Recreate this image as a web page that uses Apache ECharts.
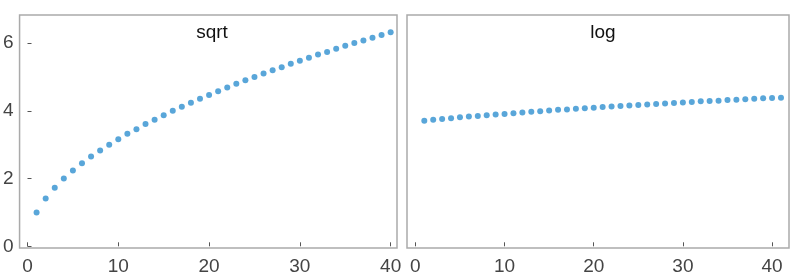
<!DOCTYPE html>
<html>
<head>
<meta charset="utf-8">
<script src="https://cdn.jsdelivr.net/npm/echarts@6/dist/echarts.min.js"></script>
<style>
  html, body { margin: 0; padding: 0; background: #fff; }
  #chart { width: 796px; height: 280px; }
</style>
</head>
<body>
<div id="chart"></div>
<script>
// data
var xSqrt = [1, 2, 3, 4, 5, 6, 7, 8, 9, 10, 11, 12, 13, 14, 15, 16, 17, 18, 19, 20,
  21, 22, 23, 24, 25, 26, 27, 28, 29, 30, 31, 32, 33, 34, 35, 36, 37, 38, 39, 40];
var ySqrt = [1.00, 1.41, 1.73, 2.00, 2.24, 2.45, 2.65, 2.83, 3.00, 3.16,
  3.32, 3.46, 3.61, 3.74, 3.87, 4.00, 4.12, 4.24, 4.36, 4.47,
  4.58, 4.69, 4.80, 4.90, 5.00, 5.10, 5.20, 5.29, 5.39, 5.48,
  5.57, 5.66, 5.74, 5.83, 5.92, 6.00, 6.08, 6.16, 6.24, 6.32];
var xLog = [1, 2, 3, 4, 5, 6, 7, 8, 9, 10, 11, 12, 13, 14, 15, 16, 17, 18, 19, 20,
  21, 22, 23, 24, 25, 26, 27, 28, 29, 30, 31, 32, 33, 34, 35, 36, 37, 38, 39, 40, 41];
var yLog = [3.71, 3.74, 3.76, 3.78, 3.81, 3.83, 3.85, 3.87, 3.89, 3.91,
  3.93, 3.95, 3.97, 3.99, 4.01, 4.03, 4.04, 4.06, 4.08, 4.09,
  4.11, 4.13, 4.14, 4.16, 4.17, 4.19, 4.20, 4.22, 4.23, 4.25,
  4.26, 4.28, 4.29, 4.30, 4.32, 4.33, 4.34, 4.36, 4.37, 4.38, 4.39];
var xTicks = [0, 10, 20, 30, 40];
var yTicks = [0, 2, 4, 6];
var panelTitles = ["sqrt", "log"];

var font = "Liberation Sans, Arial, sans-serif";
var dotColor = "#2f90d0";

function pairs(xs, ys) {
  return xs.map(function (x, i) { return [x, ys[i]]; });
}

function xAxisFor(idx, min, max) {
  return {
    type: "value", gridIndex: idx, min: min, max: max,
    axisLine: { show: false },
    splitLine: { show: false },
    axisTick: { inside: true, length: 4, customValues: xTicks, lineStyle: { color: "#555" } },
    axisLabel: { customValues: xTicks, margin: 9, fontSize: 19, color: "#444", fontFamily: font }
  };
}

function yAxisFor(idx, showLabels) {
  return {
    type: "value", gridIndex: idx, min: -0.05, max: 6.83,
    axisLine: { show: false },
    splitLine: { show: false },
    axisTick: { show: showLabels, inside: true, length: 4, customValues: yTicks, lineStyle: { color: "#555" } },
    axisLabel: { show: showLabels, customValues: yTicks, margin: 6, fontSize: 19, color: "#444", fontFamily: font }
  };
}

var myChart = echarts.init(document.getElementById("chart"));

var option = {
  animation: false,
  title: [
    { text: panelTitles[0], left: 207, top: 18, textAlign: "center",
      textStyle: { fontSize: 19, fontWeight: "normal", color: "#111", fontFamily: font } },
    { text: panelTitles[1], left: 598, top: 18, textAlign: "center",
      textStyle: { fontSize: 19, fontWeight: "normal", color: "#111", fontFamily: font } }
  ],
  grid: [
    { left: 17, top: 15, width: 380, height: 233, show: true, borderColor: "#aaa", borderWidth: 1.5 },
    { left: 407, top: 15, width: 382, height: 233, show: true, borderColor: "#aaa", borderWidth: 1.5 }
  ],
  xAxis: [xAxisFor(0, -0.875, 40.7), xAxisFor(1, -0.94, 41.9)],
  yAxis: [yAxisFor(0, true), yAxisFor(1, false)],
  series: [
    { type: "scatter", xAxisIndex: 0, yAxisIndex: 0, symbolSize: 6,
      itemStyle: { color: dotColor }, data: pairs(xSqrt, ySqrt) },
    { type: "scatter", xAxisIndex: 1, yAxisIndex: 1, symbolSize: 6,
      itemStyle: { color: dotColor }, data: pairs(xLog, yLog) }
  ]
};

myChart.setOption(option);
</script>
</body>
</html>
